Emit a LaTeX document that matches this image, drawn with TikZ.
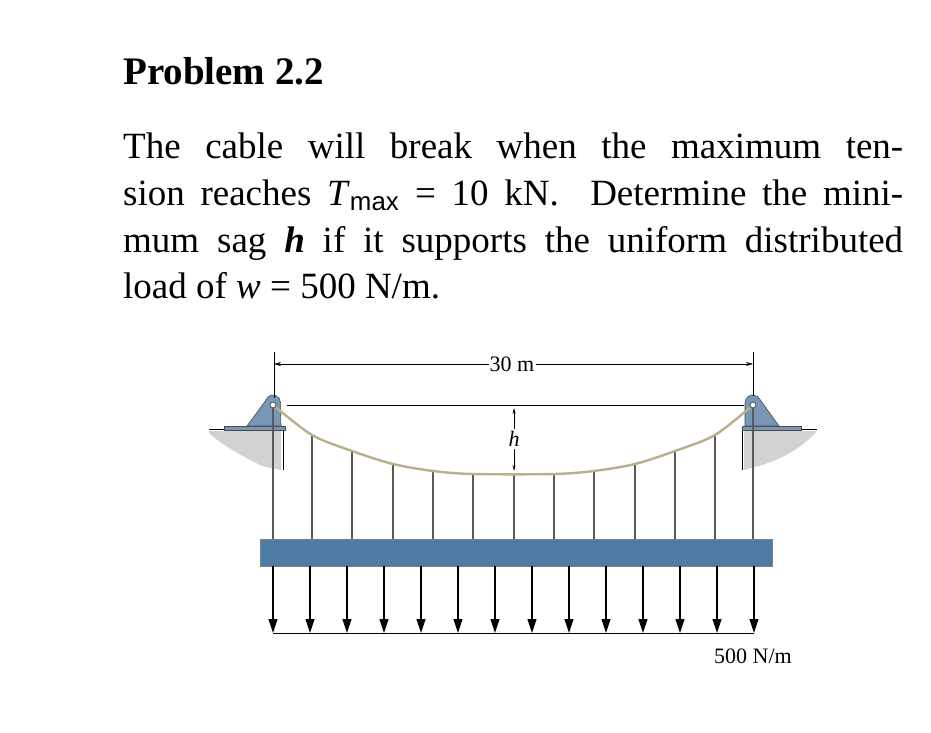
\documentclass[tikz,border=0pt]{standalone}
\usepackage{fontspec}
\setmainfont{Liberation Serif}
\setsansfont{Liberation Sans}
\usetikzlibrary{arrows.meta}
\definecolor{beam}{RGB}{78,124,164}
\definecolor{supp}{RGB}{120,150,182}
\definecolor{cable}{RGB}{185,175,140}
\begin{document}
\begin{tikzpicture}[x=1pt,y=-1pt,
  txt/.style={anchor=base west,inner sep=0pt,font=\fontsize{37}{40}\selectfont},
  small/.style={inner sep=1pt,font=\fontsize{22}{24}\selectfont},
  hanger/.style={draw=black!65,line width=1.3pt},
  load/.style={draw=black,line width=1.1pt,-{Triangle[length=14pt,width=9pt]}},
  dim/.style={draw=black,line width=0.5pt},
  support/.style={draw=black!70,fill=supp,line width=0.6pt}]
\useasboundingbox (0,0) rectangle (931,733);
% text
\node[txt,font=\bfseries\fontsize{39}{41}\selectfont] (title) at (123,85) {Problem 2.2};
\node[txt] (l1) at (123,158) {\makebox[780pt][s]{The cable will break when the maximum ten-}};
\node[txt] (l2) at (123,205) {\makebox[780pt][s]{sion reaches \textit{T}\textsubscript{\sffamily max} = 10 kN. \ Determine the mini-}};
\node[txt] (l3) at (123,252) {\makebox[780pt][s]{mum sag \textit{\textbf{h}} if it supports the uniform distributed}};
\node[txt] (l4) at (123,298) {load of \textit{w} = 500 N/m.};
% ground shading
\fill[gray!35] (209,431) -- (281,431) -- (281,470) -- (262,466) .. controls (240,455) and (222,445) .. (209,433) -- cycle;
\fill[gray!35] (744,431) -- (817,431) .. controls (805,445) and (785,458) .. (762,465) -- (744,470) -- cycle;
% ground lines
\draw[line width=0.7pt] (209,429) -- (285,429);
\draw[line width=0.7pt] (742,429) -- (817,429);
\draw[line width=0.7pt] (283,429) -- (283,470);
\draw[line width=0.7pt] (742,429) -- (742,470);
% supports
\path[support] (224,426) rectangle (285,430);
\path[support] (247,426) -- (266,400) arc[start angle=200,end angle=360,radius=7.5] -- (281,426) -- cycle;
\path[support] (742,426) rectangle (801,430);
\path[support] (745,426) -- (745,403) arc[start angle=180,end angle=340,radius=8] -- (779,426) -- cycle;
% dimension
\coordinate (dl) at (274,364); \coordinate (dr) at (753,364);
\draw[dim] (274,352) -- (274,398);
\draw[dim] (753,352) -- (753,396);
\node[small] (d30) at (512,364) {30 m};
\draw[dim,-{Stealth[length=7pt,width=4pt]}] (d30.west) -- (dl);
\draw[dim,-{Stealth[length=7pt,width=4pt]}] (d30.east) -- (dr);
\draw[dim] (287,405) -- (744,405);
% beam
\fill[beam,draw=black!50] (260,539) rectangle (772,566);
% hangers & cable
\foreach \x/\y in {273/406,312/435,352/451,393/464,433/471,473/474,514/474,554/474,594/471,635/464,675/451,715/435,753/405}
  \draw[hanger] (\x,\y) -- (\x,539);
\draw[line width=2.4pt,draw=cable] plot[smooth] coordinates {(273,405) (312,435) (352,451) (393,464) (433,471) (473,474) (554,474) (594,471) (635,464) (675,451) (715,435) (753,405)};
\draw[black!70,fill=white,line width=0.8pt] (273,405) circle (3pt);
\draw[black!70,fill=white,line width=0.8pt] (753,405) circle (3pt);
% h
\node[small,font=\itshape\fontsize{22}{24}\selectfont,fill=white,inner sep=2pt] (h) at (514,439) {h};
\draw[dim,-{Stealth[length=6pt,width=3pt]}] (h.north) -- (514,408);
\draw[dim,-{Stealth[length=6pt,width=3pt]}] (h.south) -- (514,471);
% loads
\foreach \i in {0,...,13}
  \draw[load] ({273+\i*37},566) -- ({273+\i*37},633);
\draw[dim] (273,633) -- (754,633);
\node[small] (w) at (753,656) {500 N/m};
\end{tikzpicture}
\end{document}
